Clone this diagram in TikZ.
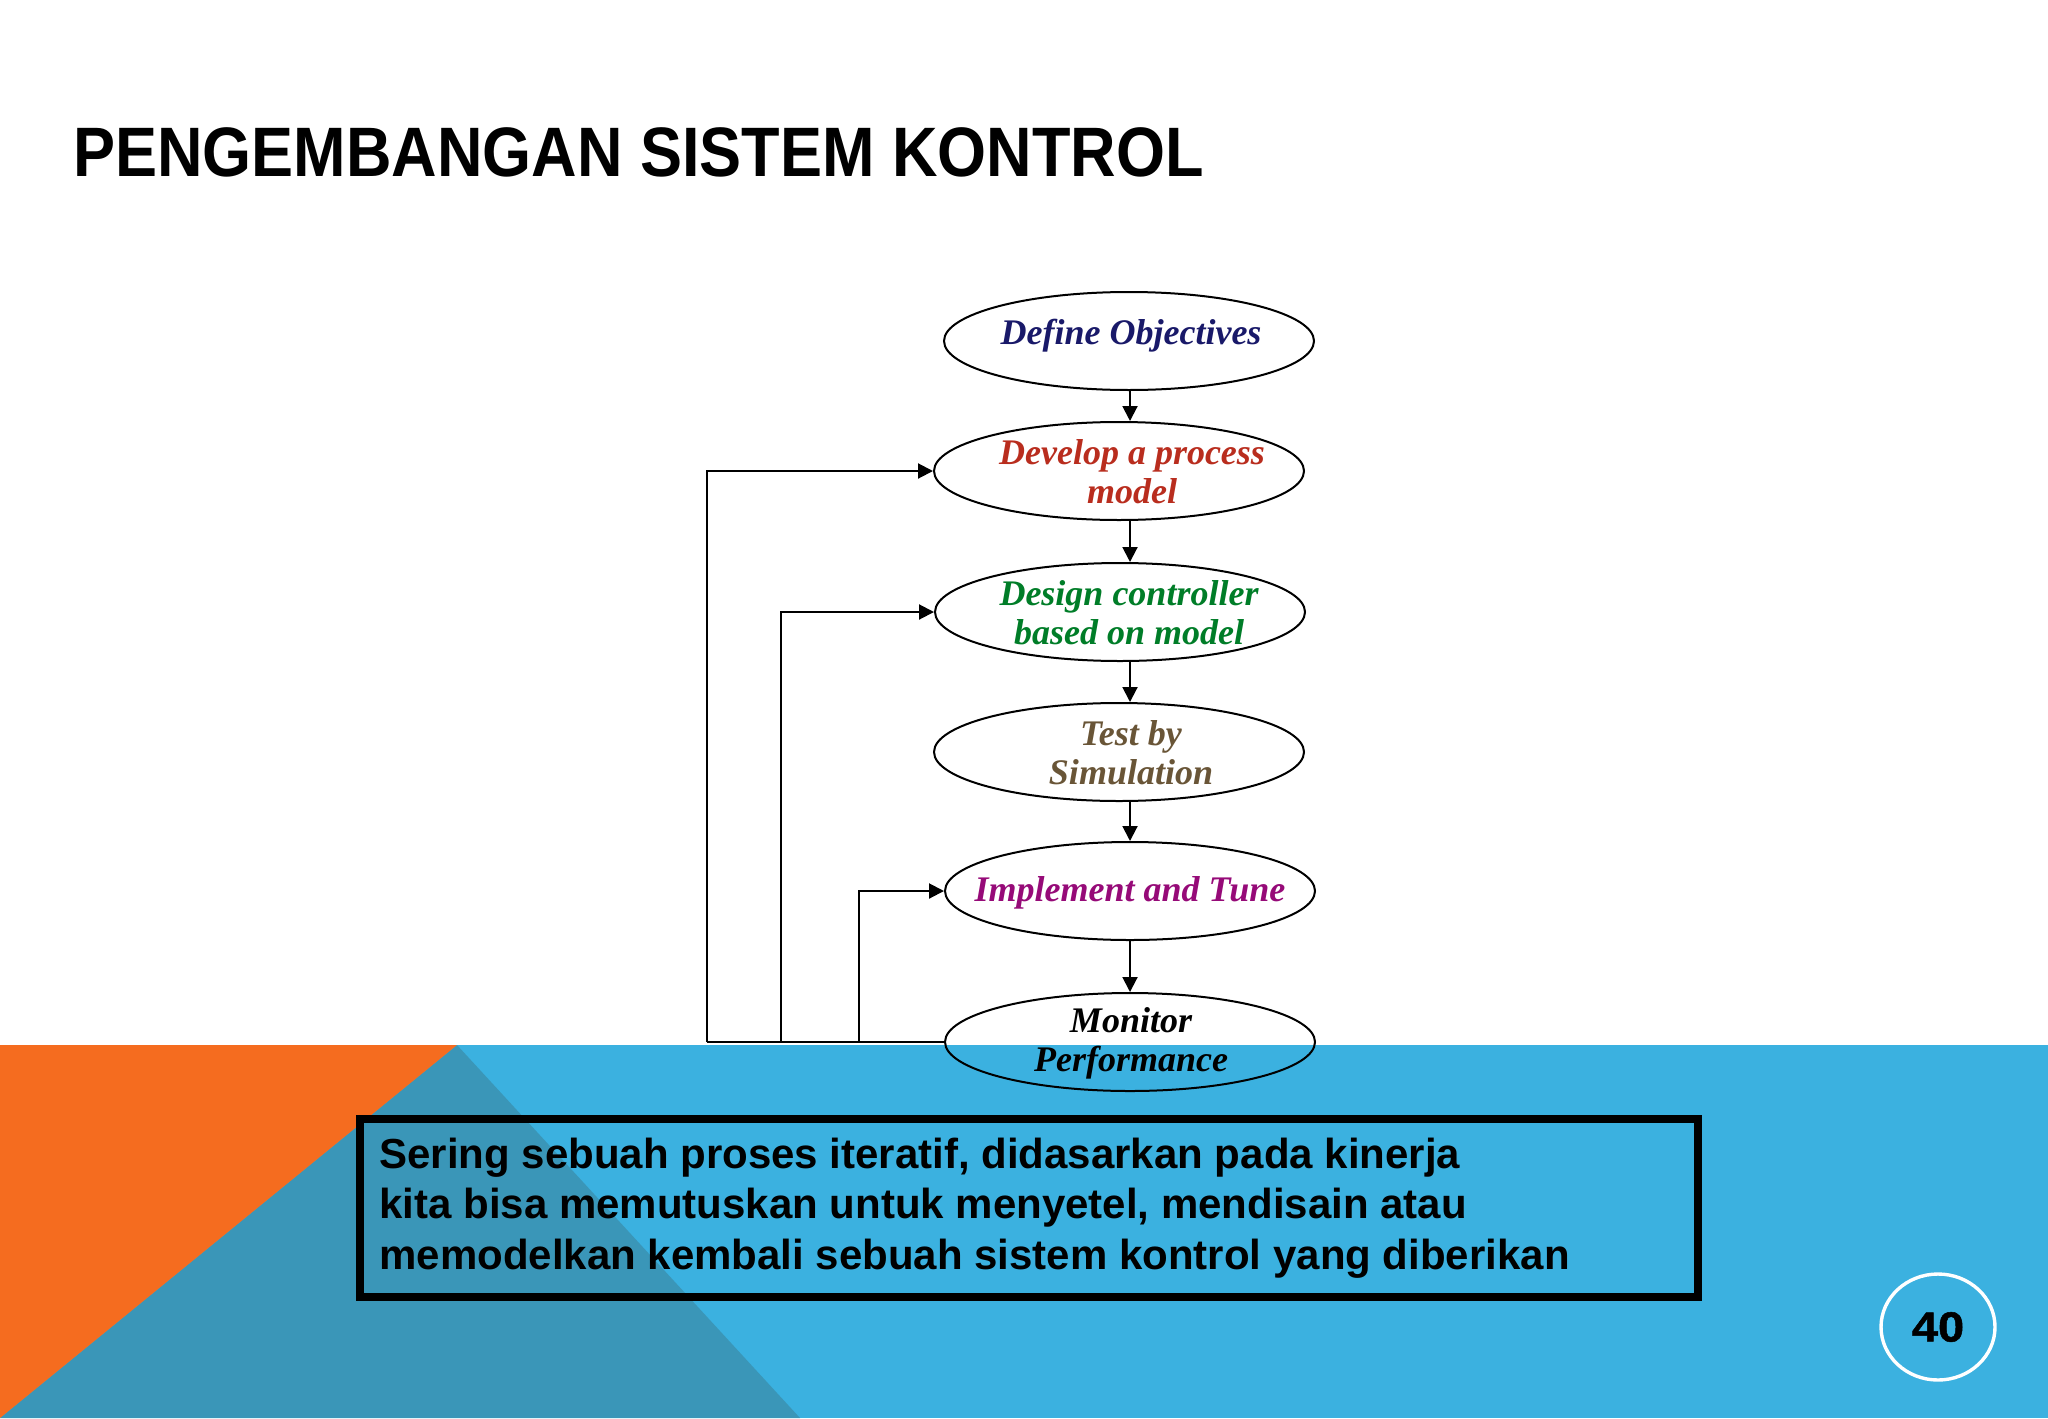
\documentclass[tikz,border=0pt]{standalone}
\usepackage{fontspec}
\setmainfont{Liberation Serif}
\newfontfamily\sansf{Liberation Sans}
\newfontfamily\titlef[FakeStretch=0.90]{Liberation Sans}
\newfontfamily\pagef[FakeStretch=1.12,FakeBold=1.2]{Liberation Sans}
\usetikzlibrary{shapes.geometric,arrows.meta}
\definecolor{bandblue}{RGB}{59,177,224}
\definecolor{darkteal}{RGB}{58,150,184}
\definecolor{orangec}{RGB}{245,108,31}
\definecolor{navyt}{RGB}{25,25,105}
\definecolor{redt}{RGB}{185,45,30}
\definecolor{greent}{RGB}{0,125,40}
\definecolor{brownt}{RGB}{105,85,55}
\definecolor{magt}{RGB}{150,10,120}
\begin{document}
\begin{tikzpicture}[x=0.5pt,y=-0.5pt,
  ell/.style={draw=black,line width=1pt,ellipse,minimum width=185pt,minimum height=49pt,inner sep=0pt},
  lbl/.style={font=\fontsize{18}{19.5}\selectfont\bfseries\itshape,align=center,inner sep=0pt},
  fb/.style={draw=black,line width=1pt},
  arr/.style={draw=black,line width=1pt,-{Triangle[length=7.5pt,width=7.5pt]}},
  body/.style={font=\sansf\bfseries\fontsize{21}{24}\selectfont,anchor=base west,inner sep=0pt}
]
\fill[white] (0,0) rectangle (2048,1418);
\useasboundingbox (0,0) rectangle (2048,1418);
\fill[bandblue] (0,1045) rectangle (2048,1418);
\fill[darkteal] (457,1045) -- (800,1418) -- (0,1418) -- cycle;
\fill[orangec] (0,1045) -- (457,1045) -- (0,1418) -- cycle;

% title
\node[anchor=base west,inner sep=0pt,font=\titlef\bfseries\fontsize{35}{38}\selectfont] (title) at (73,176) {PENGEMBANGAN SISTEM KONTROL};

% ellipses
\node[ell] (n1) at (1129,341) {};
\node[ell] (n2) at (1119,471) {};
\node[ell] (n3) at (1120,612) {};
\node[ell] (n4) at (1119,752) {};
\node[ell] (n5) at (1130,891) {};
\node[ell] (n6) at (1130,1042) {};

\node[lbl,text=navyt] (l1) at (1131,336) {Define Objectives};
\node[lbl,text=redt] (l2) at (1132,472) {Develop a process\\model};
\node[lbl,text=greent] (l3) at (1129,613) {Design controller\\based on model};
\node[lbl,text=brownt] (l4) at (1131,753) {Test by\\Simulation};
\node[lbl,text=magt] (l5) at (1130,893) {Implement and Tune};
\node[lbl,text=black] (l6) at (1131,1043) {Monitor\\Performance};

% spine arrows
\coordinate (spine) at (1130,0);
\draw[arr] (spine |- n1.south) -- (spine |- n2.north);
\draw[arr] (spine |- n2.south) -- (spine |- n3.north);
\draw[arr] (spine |- n3.south) -- (spine |- n4.north);
\draw[arr] (spine |- n4.south) -- (spine |- n5.north);
\draw[arr] (spine |- n5.south) -- (spine |- n6.north);

% feedback
\coordinate (c1) at (707,1042);
\coordinate (c2) at (781,1042);
\coordinate (c3) at (859,1042);
\draw[fb] (n6.west) -- (c1);
\draw[arr] (c1) |- (n2.west);
\draw[arr] (c2) |- (n3.west);
\draw[arr] (c3) |- (n5.west);

% text box
\draw[line width=4pt] (360,1119) rectangle (1698,1297);
\node[body] (t1) at (379,1168) {Sering sebuah proses iteratif, didasarkan pada kinerja};
\node[body] (t2) at (379,1218.5) {kita bisa memutuskan untuk menyetel, mendisain atau};
\node[body] (t3) at (379,1269) {memodelkan kembali sebuah sistem kontrol yang diberikan};

% page number
\node[ellipse,draw=white,line width=1.7pt,minimum width=57pt,minimum height=53pt,inner sep=0pt,font=\pagef\bfseries\fontsize{21}{24}\selectfont] (pg) at (1938,1327) {40};
\end{tikzpicture}
\end{document}
